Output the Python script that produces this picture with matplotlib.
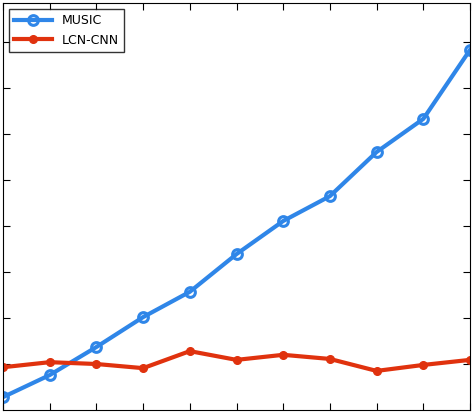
import matplotlib
matplotlib.use("Agg")
import matplotlib.pyplot as plt

x = list(range(1, 12))
music = [0.28, 0.76, 1.37, 2.02, 2.57, 3.39, 4.11, 4.65, 5.61, 6.33, 7.83]
lcn = [0.93, 1.04, 1.0, 0.91, 1.28, 1.09, 1.2, 1.11, 0.85, 0.98, 1.09]

fig = plt.figure(figsize=(4.74, 4.18), dpi=100)
ax = fig.add_axes([3/474, 8/418, 467/474, 407/418])
ax.plot(x, music, '-o', color='#2f86e8', lw=3, ms=7, mfc='none', mew=2.2, label='MUSIC')
ax.plot(x, lcn, '-o', color='#e0320e', lw=3, ms=5.5, label='LCN-CNN')
ax.set_xlim(1, 11)
ax.set_ylim(0, 8.85)
ax.set_xticks(x)
ax.set_yticks(range(1, 9))
ax.tick_params(direction='in', length=5, labelleft=False, labelbottom=False, top=True, right=True)
ax.legend(loc='upper left', fontsize=9, frameon=True, fancybox=False, edgecolor='black', handlelength=3)
fig.savefig('out.png', dpi=100)
